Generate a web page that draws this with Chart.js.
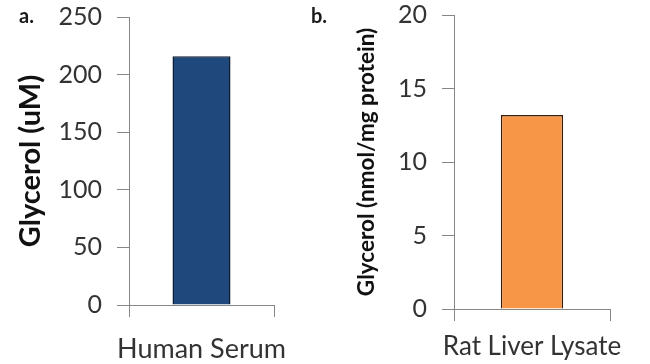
<!DOCTYPE html>
<html lang="en">
<head>
  <meta charset="UTF-8" />
  <title>Glycerol</title>
  <style>
    body {
      margin: 0;
      background: #fff;
      font-family: Lato, sans-serif;
    }
    #wrap {
      position: relative;
      width: 650px;
      height: 364px;
      overflow: hidden;
    }
    canvas {
      position: absolute;
      top: 0;
    }
    .tag {
      position: absolute;
      font-weight: bold;
      font-size: 20px;
      color: #1a1a1a;
    }
  </style>
  <script src="https://cdn.jsdelivr.net/npm/chart.js"></script>
</head>
<body>
  <div id="wrap">
    <canvas id="grafA" width="300" height="364" style="left:0"></canvas>
    <canvas id="grafB" width="350" height="364" style="left:300px"></canvas>
    <div class="tag" style="left:19px; top:3px">a.</div>
    <div class="tag" style="left:311px; top:3px">b.</div>
  </div>

  <script>
    // dados
    const categoriasA = ["Human Serum"];
    const valoresA = [216];
    const ticksA = [0, 50, 100, 150, 200, 250];

    const categoriasB = ["Rat Liver Lysate"];
    const valoresB = [13.2];
    const ticksB = [0, 5, 10, 15, 20];

    const corEixo = "#868686";
    const corTexto = "#333333";

    function montaGrafico(id, cats, vals, ticks, cfg) {
      const ctx = document.getElementById(id).getContext("2d");
      return new Chart(ctx, {
        type: "bar",
        data: {
          labels: cats,
          datasets: [
            {
              data: vals,
              backgroundColor: cfg.cor,
              borderColor: cfg.borda,
              borderWidth: 1.5,
              barPercentage: 0.4,
              categoryPercentage: 1,
            },
          ],
        },
        options: {
          responsive: false,
          animation: false,
          devicePixelRatio: 1,
          layout: {
            padding: { left: 0, right: cfg.dir, top: cfg.topo, bottom: 0 },
          },
          plugins: {
            legend: { display: false },
            tooltip: { enabled: false },
          },
          scales: {
            x: {
              grid: {
                drawOnChartArea: false,
                tickLength: 12,
                color: corEixo,
              },
              border: { color: corEixo, width: 1 },
              ticks: {
                color: corTexto,
                padding: cfg.padX,
                font: { family: "Lato", size: cfg.tamX },
              },
              afterFit: (s) => {
                s.height = 364 - cfg.base;
                s.paddingLeft = 0;
                s.paddingRight = 0;
              },
            },
            y: {
              min: 0,
              max: ticks[ticks.length - 1],
              afterBuildTicks: (s) => {
                s.ticks = ticks.map((v) => ({ value: v }));
              },
              grid: {
                drawOnChartArea: false,
                tickLength: 12,
                color: corEixo,
              },
              border: { color: corEixo, width: 1 },
              ticks: {
                color: corTexto,
                padding: 15,
                font: { family: "Lato", size: 25 },
              },
              title: {
                display: true,
                text: cfg.titulo,
                color: "#111",
                font: { family: "Lato", size: cfg.tamTitulo, weight: "bold" },
                padding: { top: cfg.padTitulo, bottom: 0 },
              },
              afterFit: (s) => {
                s.width = cfg.eixoX;
                // o topo do grafico fica no valor de layout.padding
                s.paddingTop = 0;
                s.paddingBottom = 0;
              },
            },
          },
        },
      });
    }

    montaGrafico("grafA", categoriasA, valoresA, ticksA, {
      cor: "#1f497d",
      borda: "#0d1e33",
      dir: 26,
      topo: 17,
      base: 305,
      eixoX: 129,
      tamX: 27,
      padX: 16,
      titulo: "Glycerol (uM)",
      tamTitulo: 29,
      padTitulo: 13,
    });

    montaGrafico("grafB", categoriasB, valoresB, ticksB, {
      cor: "#f79646",
      borda: "#3b1d0c",
      dir: 40,
      topo: 15,
      base: 309,
      eixoX: 154,
      tamX: 26,
      padX: 10,
      titulo: "Glycerol (nmol/mg protein)",
      tamTitulo: 22.5,
      padTitulo: 53,
    });
  </script>
</body>
</html>
